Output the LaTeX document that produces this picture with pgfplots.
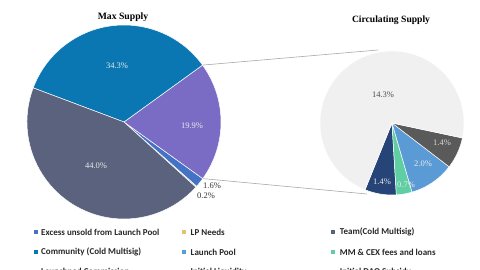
\documentclass[border=0pt]{standalone}
\usepackage{pgfplots}
\usepackage{pgfplotstable}
\pgfplotsset{compat=1.18}
\usepackage{fontspec}
\setmainfont{Liberation Serif}
\newfontfamily\legfont{Carlito}

\definecolor{cExcess}{HTML}{4472C4}
\definecolor{cLP}{HTML}{E2C56B}
\definecolor{cTeam}{HTML}{5A627E}
\definecolor{cCommunity}{HTML}{0A77B2}
\definecolor{cCirc}{HTML}{7A6CC4}
\definecolor{cLaunch}{HTML}{5B9BD5}
\definecolor{cMM}{HTML}{5FCFA3}
\definecolor{cPad}{HTML}{264478}
\definecolor{cLiq}{HTML}{F0F0F0}
\definecolor{cDAO}{HTML}{5A5A5A}
\definecolor{cConn}{HTML}{A8A8A8}

% Max supply split (percent of total)
\pgfplotstableread{
share colour
0.2   cLP
1.6   cExcess
19.9  cCirc
34.3  cCommunity
44.0  cTeam
}\maxsupply

% Circulating supply breakdown (percent of total)
\pgfplotstableread{
share colour
1.4   cPad
0.7   cMM
2.0   cLaunch
1.4   cDAO
14.3  cLiq
}\circsupply

% draw a pie from a table: #1 table, #2 cx, #3 cy, #4 radius, #5 start angle, #6 total
\newcommand\drawpie[6]{%
  \pgfplotstablegetrowsof{#1}%
  \pgfmathtruncatemacro\nrows{\pgfplotsretval-1}%
  \xdef\curang{#5}%
  \pgfplotsforeachungrouped \i in {0,...,\nrows}{%
    \pgfplotstablegetelem{\i}{share}\of#1\let\val\pgfplotsretval
    \pgfplotstablegetelem{\i}{colour}\of#1\let\col\pgfplotsretval
    \pgfmathsetmacro\endang{\curang+360*\val/#6}%
    \edef\cmd{\noexpand\filldraw[fill=\col, draw=white, line width=0.5pt]
      (axis cs:#2,#3) -- ++(\curang:#4pt)
      arc[start angle=\curang, end angle=\endang, radius=#4pt] -- cycle;}%
    \cmd
    \xdef\curang{\endang}%
  }%
}

\begin{document}
\begin{tikzpicture}
\begin{axis}[
  x=1pt, y=1pt, xmin=0, xmax=480, ymin=0, ymax=270,
  hide axis, clip=false, scale only axis,
  at={(0,0)}, anchor=south west,
]
% connector lines between the two pies
\draw[cConn, line width=0.6pt] (axis cs:202.6,204.9) -- (axis cs:378,220);
\draw[cConn, line width=0.6pt] (axis cs:202.8,91.4) -- (axis cs:367,76);

\drawpie{\maxsupply}{124}{148}{97}{-42.2}{100}
\drawpie{\circsupply}{392}{147}{72}{-112}{19.8}

% titles
\node[font=\bfseries\fontsize{9.7}{11}\selectfont] at (axis cs:123,253) {Max Supply};
\node[font=\bfseries\fontsize{9.6}{11}\selectfont] at (axis cs:391,250) {Circulating Supply};

% slice labels
\begin{scope}[every node/.style={font=\fontsize{8.5}{10}\selectfont}]
\node[white!92!black] at (axis cs:117,204) {34.3\%};
\node[white!92!black] at (axis cs:192,144) {19.9\%};
\node[white!92!black] at (axis cs:96,104) {44.0\%};
\node[black!80] at (axis cs:212,84) {1.6\%};
\node[black!80] at (axis cs:206,74) {0.2\%};
\node[black!70] at (axis cs:383,175) {14.3\%};
\node[white!85!black] at (axis cs:442,127) {1.4\%};
\node[white!92!black] at (axis cs:423,106) {2.0\%};
\node[white!92!black] at (axis cs:406,85) {0.7\%};
\node[white!92!black] at (axis cs:382,88) {1.4\%};
\end{scope}

% legend
\begin{scope}[every node/.style={font=\legfont\bfseries\fontsize{9}{10}\selectfont, anchor=west, inner sep=0pt, text=black!85}]
\fill[cExcess]    (axis cs:34.3,36.3) rectangle (axis cs:37.7,39.7);
\node at (axis cs:41,38) {Excess unsold from Launch Pool};
\fill[cLP]        (axis cs:182.3,36.3) rectangle (axis cs:185.7,39.7);
\node at (axis cs:190.5,38) {LP Needs};
\fill[cTeam]      (axis cs:331.3,36.3) rectangle (axis cs:334.7,39.7);
\node at (axis cs:339.7,38) {Team(Cold Multisig)};
\fill[cCommunity] (axis cs:34.3,16.3) rectangle (axis cs:37.7,19.7);
\node at (axis cs:41,18) {Community (Cold Multisig)};
\fill[cLaunch]    (axis cs:182.3,16.3) rectangle (axis cs:185.7,19.7);
\node at (axis cs:190.5,18) {Launch Pool};
\fill[cMM]        (axis cs:331.3,16.3) rectangle (axis cs:334.7,19.7);
\node at (axis cs:339.7,18) {MM \& CEX fees and loans};
\fill[cPad]       (axis cs:34.3,-3.7) rectangle (axis cs:37.7,-0.3);
\node at (axis cs:41,-2) {Launchpad Commission};
\fill[cLiq]       (axis cs:182.3,-3.7) rectangle (axis cs:185.7,-0.3);
\node at (axis cs:190.5,-2) {Initial Liquidity};
\fill[cDAO]       (axis cs:331.3,-3.7) rectangle (axis cs:334.7,-0.3);
\node at (axis cs:339.7,-2) {Initial DAO Subsidy};
\end{scope}
\end{axis}
\pgfresetboundingbox
\useasboundingbox (0,0) rectangle (480pt,270pt);
\end{tikzpicture}
\end{document}
